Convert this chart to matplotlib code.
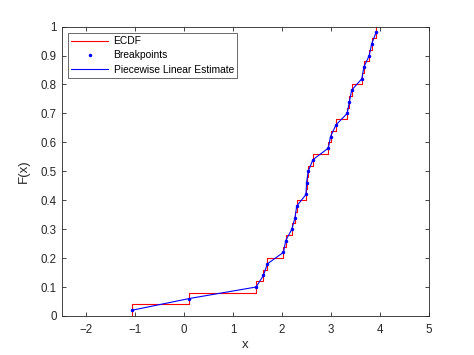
import numpy as np
import matplotlib
matplotlib.use('Agg')
import matplotlib.pyplot as plt

# sorted sample values
x_data = [-1.055, 0.10, 1.47, 1.62, 1.70, 2.03, 2.075, 2.20, 2.265, 2.30,
          2.49, 2.50, 2.535, 2.63, 2.945, 2.99, 3.10, 3.33, 3.375, 3.42,
          3.63, 3.67, 3.78, 3.83, 3.92]
x_ticks = [-2, -1, 0, 1, 2, 3, 4, 5]
y_ticks = [0, 0.1, 0.2, 0.3, 0.4, 0.5, 0.6, 0.7, 0.8, 0.9, 1]
y_tick_labels = ['0', '0.1', '0.2', '0.3', '0.4', '0.5', '0.6', '0.7', '0.8', '0.9', '1']

plt.rcParams['font.family'] = ['Liberation Sans', 'DejaVu Sans']

n = len(x_data)
xs = np.array(x_data)
f = np.arange(0, n + 1) / n
# ECDF stairs, MATLAB style: vertical jump at each sample
stair_x = np.repeat(xs, 2)
stair_f = np.empty(2 * n)
stair_f[0::2] = f[:-1]
stair_f[1::2] = f[1:]
# breakpoints in the middle of each jump
bp_f = (f[:-1] + f[1:]) / 2

fig = plt.figure(figsize=(4.74, 3.55), dpi=100)
ax = fig.add_axes([0.13, 0.11, 0.775, 0.815])

ax.plot(stair_x, stair_f, color='r', lw=0.8, label='ECDF')
ax.plot(xs, bp_f, '.', color='b', ms=3, label='Breakpoints')
ax.plot(xs, bp_f, '-', color='b', lw=0.8, label='Piecewise Linear Estimate')

ax.set_xlim(-2.5, 5)
ax.set_ylim(0, 1)
ax.set_xticks(x_ticks)
ax.set_yticks(y_ticks)
ax.set_yticklabels(y_tick_labels)

axc = '#262626'
for s in ax.spines.values():
    s.set_color(axc)
    s.set_linewidth(0.6)
ax.tick_params(direction='in', top=True, right=True, length=3, width=0.6,
               colors=axc, labelsize=8.3, labelcolor=axc)
ax.tick_params(axis='x', pad=6)
ax.set_xlabel('x', fontsize=9.5, color=axc, labelpad=2)
ax.set_ylabel('F(x)', fontsize=9.5, color=axc, labelpad=8)

leg = ax.legend(loc='upper left', fontsize=7.4, frameon=True, fancybox=False,
                edgecolor=axc, handlelength=3.6, handletextpad=0.5,
                borderaxespad=0.6, labelspacing=0.4, borderpad=0.35)
leg.get_frame().set_linewidth(0.6)

fig.savefig('out.png', dpi=100)
